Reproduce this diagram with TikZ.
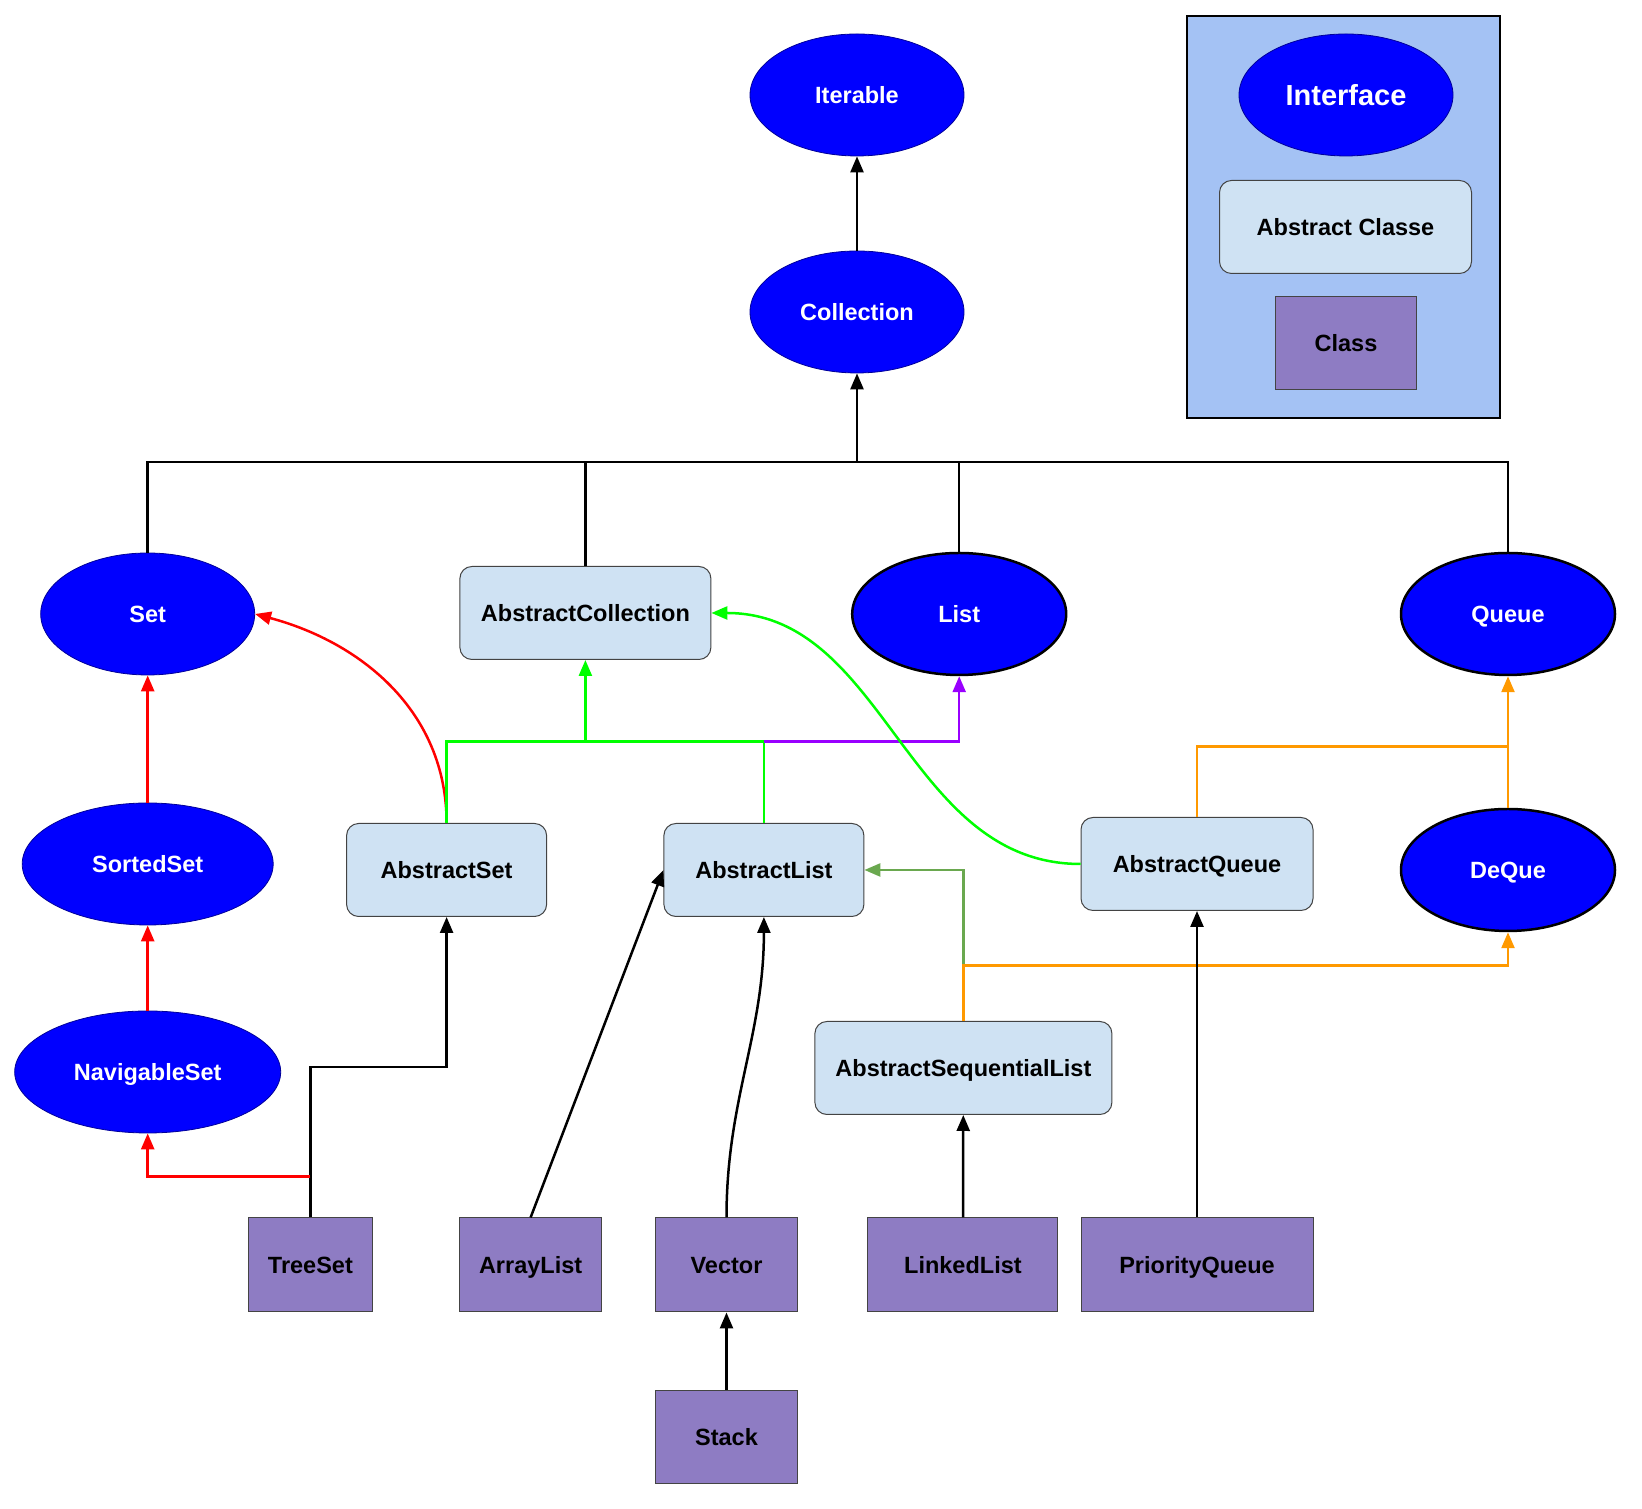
\documentclass[tikz,border=0pt]{standalone}
\usepackage{fontspec}
\setmainfont{Liberation Sans}
\usetikzlibrary{shapes.geometric,arrows.meta}

\definecolor{ifblue}{RGB}{0,0,255}
\definecolor{absfill}{HTML}{CFE2F3}
\definecolor{absline}{HTML}{434343}
\definecolor{clsfill}{HTML}{8E7CC3}
\definecolor{clsline}{HTML}{444444}
\definecolor{legfill}{HTML}{A4C2F4}
\definecolor{ggreen}{HTML}{00FF00}
\definecolor{gpurple}{HTML}{9900FF}
\definecolor{gorange}{HTML}{FF9900}
\definecolor{golive}{HTML}{6AA84F}

\begin{document}
\begin{tikzpicture}[x=1pt,y=1pt,
    lbl/.style={font=\fontsize{23.5}{28}\selectfont\bfseries,text height=17pt,text depth=0pt},
    iface/.style={lbl,ellipse,fill=ifblue,draw=ifblue!60!black,line width=0.8pt,
        text=white,minimum width=214pt,minimum height=122pt,inner sep=0pt},
    ifacebold/.style={iface,draw=black,line width=2.5pt},
    absbox/.style={lbl,rectangle,rounded corners=12pt,fill=absfill,draw=absline,
        line width=1pt,minimum height=93pt,inner sep=0pt},
    clsbox/.style={lbl,rectangle,fill=clsfill,draw=clsline,line width=1pt,
        minimum height=94pt,inner sep=0pt},
    lw/.style={line width=2.5pt},
    arr/.style={lw,-{Triangle[length=16pt,width=13pt]}}]

    % 边界
    \useasboundingbox (0,0) rectangle (1642,1509);

    % 图例
    \draw[fill=legfill,line width=2pt] (1187,1091) rectangle (1500,1493);
    \node[iface,font=\fontsize{29}{34}\selectfont\bfseries,text height=21pt] (leginterface) at (1346,1414) {Interface};
    \node[absbox,minimum width=252pt] (legabstract) at (1345.5,1282) {Abstract Classe};
    \node[clsbox,minimum width=141pt,minimum height=93pt] (legclass) at (1346,1166) {Class};

    % 接口
    \node[iface] (iterable) at (857,1414) {Iterable};
    \node[iface] (collection) at (857,1197) {Collection};
    \node[iface] (set) at (147.7,895) {Set};
    \node[ifacebold] (list) at (959.2,895) {List};
    \node[ifacebold] (queue) at (1508,895) {Queue};
    \node[iface,minimum width=251pt] (sortedset) at (147.7,645) {SortedSet};
    \node[ifacebold] (deque) at (1508,639) {DeQue};
    \node[iface,minimum width=266pt] (navigableset) at (147.7,437) {NavigableSet};

    % 抽象类
    \node[absbox,minimum width=251pt] (abscollection) at (585.4,896) {AbstractCollection};
    \node[absbox,minimum width=200pt] (absset) at (446.6,639) {AbstractSet};
    \node[absbox,minimum width=200pt] (abslist) at (763.9,639) {AbstractList};
    \node[absbox,minimum width=232pt] (absqueue) at (1197,645) {AbstractQueue};
    \node[absbox,minimum width=297pt] (absseqlist) at (963.4,441) {AbstractSequentialList};

    % 类
    \node[clsbox,minimum width=124pt] (treeset) at (310.4,244) {TreeSet};
    \node[clsbox,minimum width=142pt] (arraylist) at (530.6,244) {ArrayList};
    \node[clsbox,minimum width=142pt] (vector) at (726.5,244) {Vector};
    \node[clsbox,minimum width=190pt] (linkedlist) at (962.9,244) {LinkedList};
    \node[clsbox,minimum width=232pt] (priorityqueue) at (1197,244) {PriorityQueue};
    \node[clsbox,minimum width=142pt,minimum height=93pt] (stack) at (726.5,72) {Stack};

    % 折线的拐点
    \coordinate (bus) at (857,1047);
    \coordinate (gbus) at (585.4,767.6);
    \coordinate (obus) at (1508,762.7);
    \coordinate (obus2) at (963.4,543.3);
    \coordinate (tselbow) at (310.4,441.9);
    \coordinate (tsred) at (310.4,332.7);

    % 顶层
    \draw[arr] (collection) -- (iterable);
    \draw[lw] (set.north) |- (bus) -| (queue.north);
    \draw[lw] (abscollection.north) -- (abscollection.north |- bus);
    \draw[lw] (list.north) -- (list.north |- bus);
    \draw[arr] (bus) -- (collection.south);

    % Set 一支
    \draw[arr,red] (sortedset) -- (set);
    \draw[arr,red] (navigableset) -- (sortedset);
    \draw[arr,red] (absset.north) to[out=90,in=-15] (set.east);
    \draw[arr] (treeset.north) -- (tselbow) -| (absset.south);
    \draw[arr,red] (tsred) -| (navigableset.south);

    % AbstractCollection 与 List
    \draw[lw,ggreen] (absset.north) |- (gbus) -| (abslist.north);
    \draw[arr,ggreen] (gbus) -- (abscollection.south);
    \draw[arr,gpurple] (abslist.north |- gbus) -| (list.south);
    \draw[arr,ggreen] (absqueue.west) to[out=180,in=0] (abscollection.east);

    % Queue 一支
    \draw[lw,gorange] (absqueue.north) |- (obus);
    \draw[arr,gorange] (deque.north) -- (queue.south);
    \draw[arr,golive] (absseqlist.north) |- (abslist.east);
    \draw[arr,gorange] (absseqlist.north) -- (obus2) -| (deque.south);

    % 具体类
    \draw[arr] (arraylist.north) -- (abslist.west);
    \draw[arr] (vector.north) to[out=90,in=-90] (abslist.south);
    \draw[arr] (stack) -- (vector);
    \draw[arr] (linkedlist) -- (absseqlist);
    \draw[arr] (priorityqueue) -- (absqueue);

\end{tikzpicture}
\end{document}
